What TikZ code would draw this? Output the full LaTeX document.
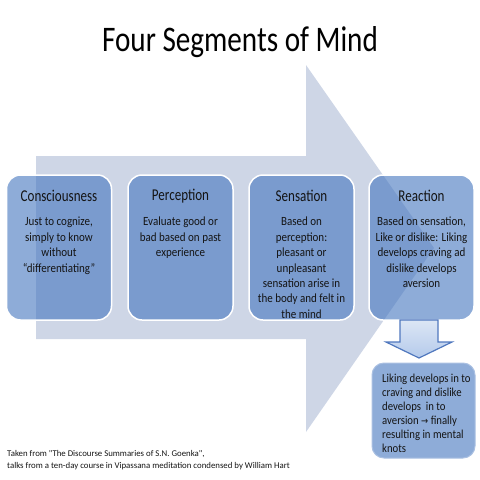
\documentclass[tikz,border=0pt]{standalone}
\usepackage{fontspec}
\setmainfont[FakeStretch=0.88]{Carlito}
\newfontfamily\headfont[FakeStretch=0.79]{Carlito}
\newfontfamily\titlefont[FakeStretch=0.81]{Carlito}
\newfontfamily\notefont{Carlito}
\newfontfamily\symfont[FakeStretch=0.85]{DejaVu Sans}
\definecolor{arrowbg}{RGB}{206,214,230}
\definecolor{boxblue}{RGB}{67,117,190}
\definecolor{resborder}{RGB}{170,192,226}
\definecolor{darrowline}{RGB}{80,120,190}
\definecolor{darrowtop}{RGB}{220,230,245}
\definecolor{darrowbot}{RGB}{180,202,235}
\definecolor{txt}{RGB}{20,20,20}
\begin{document}
\begin{tikzpicture}[x=1pt,y=-1pt,
  segbox/.style={draw=white, line width=1.5pt, rounded corners=14pt, fill=boxblue, fill opacity=0.6,
     minimum width=105pt, minimum height=145pt, inner sep=0pt},
  resbox/.style={draw=resborder, line width=1pt, rounded corners=12pt, fill=boxblue, fill opacity=0.6,
     minimum width=103pt, minimum height=95pt, inner sep=0pt},
  head/.style={font=\headfont\fontsize{16.5}{19}\selectfont, text=txt, inner sep=0pt},
  bodytext/.style={font=\fontsize{12.5}{15.4}\selectfont, text=txt, align=center, inner sep=0pt, anchor=north},
  note/.style={font=\notefont\fontsize{8.8}{12}\selectfont, text=txt, align=left, inner sep=0pt, anchor=north west},
  darrow/.style={draw=darrowline, line width=1.2pt, top color=darrowtop, bottom color=darrowbot}
]
\useasboundingbox (0,0) rectangle (480,480);
% big background arrow
\fill[arrowbg] (36,156) -- (306,156) -- (306,65) -- (434,248) -- (306,432) -- (306,339) -- (36,339) -- cycle;
% title
\node[font=\titlefont\fontsize{36}{40}\selectfont, text=black, inner sep=0pt] (title) at (240,42) {Four Segments of Mind};
% boxes
\node[segbox] (cons) at (59,247.5) {};
\node[segbox] (perc) at (180.5,247.5) {};
\node[segbox] (sens) at (301.5,247.5) {};
\node[segbox] (reac) at (421.5,247.5) {};
% headings
\node[head] (consh) at (59,196) {Consciousness};
\node[head] (perch) at (180.5,196) {Perception};
\node[head] (sensh) at (301.5,196) {Sensation};
\node[head] (reach) at (421.5,196) {Reaction};
% bodies
\node[bodytext] (consb) at (59,217) {Just to cognize,\\simply to know\\without\\“differentiating”};
\node[bodytext] (percb) at (180.5,217) {Evaluate good or\\bad based on past\\experience};
\node[bodytext] (sensb) at (301.5,217) {Based on\\perception:\\pleasant or\\unpleasant\\sensation arise in\\the body and felt in\\the mind};
\node[bodytext] (reacb) at (421.5,217) {Based on sensation,\\Like or dislike: Liking\\develops craving ad\\dislike develops\\aversion};
% down arrow
\draw[darrow] (400,320) -- (438,320) -- (438,342) -- (452,342) -- (419,358) -- (386,342) -- (400,342) -- cycle;
% result box
\node[resbox] (res) at (423.5,410.5) {};
\node[bodytext, align=left, anchor=north west, font=\fontsize{12.2}{13.9}\selectfont] (resb) at (382,374)
  {Liking develops in to\\craving and dislike\\develops\ \ in to\\aversion {\symfont\fontsize{10}{12}\selectfont →} finally\\resulting in mental\\knots};
% footnote
\node[note] (foot) at (7,450) {Taken from "The Discourse Summaries of S.N. Goenka",\\talks from a ten-day course in Vipassana meditation condensed by William Hart};
\end{tikzpicture}
\end{document}
